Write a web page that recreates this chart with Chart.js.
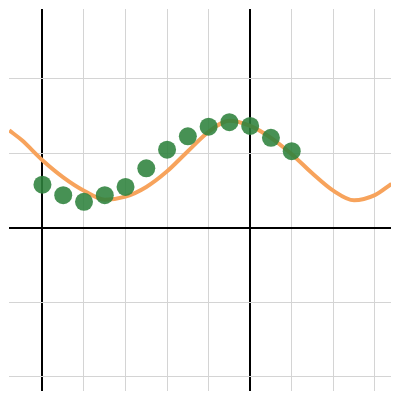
<!DOCTYPE html>
<html><head><script src="https://cdn.jsdelivr.net/npm/chart.js"></script>
<style>html,body{margin:0;padding:0;background:#fff}#w{width:400px;height:400px}</style></head>
<body><div id="w"><canvas id="c"></canvas></div>
<script>
const pointX=[0,0.5,1,1.5,2,2.5,3,3.5,4,4.5,5,5.5,6];
const pointY=[0.58,0.44,0.35,0.44,0.55,0.80,1.05,1.23,1.36,1.42,1.37,1.21,1.03];
const curveX=[-0.8,-0.5,0,0.5,1,1.5,2,2.5,3,3.5,4,4.5,5,5.5,6,6.5,7,7.5,8,8.4];
const curveY=[1.31,1.18,0.91,0.68,0.50,0.38,0.42,0.55,0.76,1.03,1.29,1.44,1.37,1.21,0.99,0.73,0.50,0.37,0.44,0.59];
const xTicks=[0,1,2,3,4,5,6,7,8];
const yTicks=[-2,-1,0,1,2];
const boldX=[0,5], boldY=[0];
const gridOpts=(bold)=>({drawTicks:false,tickLength:0,
  color:c=>bold.includes(c.tick.value)?'#000':'#d4d4d4',
  lineWidth:c=>bold.includes(c.tick.value)?2:1});
new Chart(document.getElementById('c'),{
  type:'scatter',
  data:{datasets:[
    {data:pointX.map((x,i)=>({x,y:pointY[i]})),backgroundColor:'rgba(45,130,60,0.88)',borderWidth:0,pointRadius:9,order:1},
    {type:'line',data:curveX.map((x,i)=>({x,y:curveY[i]})),borderColor:'#f7a35c',borderWidth:4,pointRadius:0,cubicInterpolationMode:'monotone',fill:false,order:2}
  ]},
  options:{responsive:true,maintainAspectRatio:false,animation:false,
    layout:{padding:0},
    plugins:{legend:{display:false},tooltip:{enabled:false}},
    scales:{
      x:{type:'linear',min:-0.805,max:8.39,ticks:{display:false,padding:0},border:{display:false},grid:gridOpts(boldX),
        afterFit:s=>{s.height=0;},
        afterBuildTicks:s=>{s.ticks=xTicks.map(v=>({value:v}));}},
      y:{type:'linear',min:-2.19,max:2.94,ticks:{display:false,padding:0},border:{display:false},grid:gridOpts(boldY),
        afterFit:s=>{s.width=0;},
        afterBuildTicks:s=>{s.ticks=yTicks.map(v=>({value:v}));}}
    }}
});
</script></body></html>
